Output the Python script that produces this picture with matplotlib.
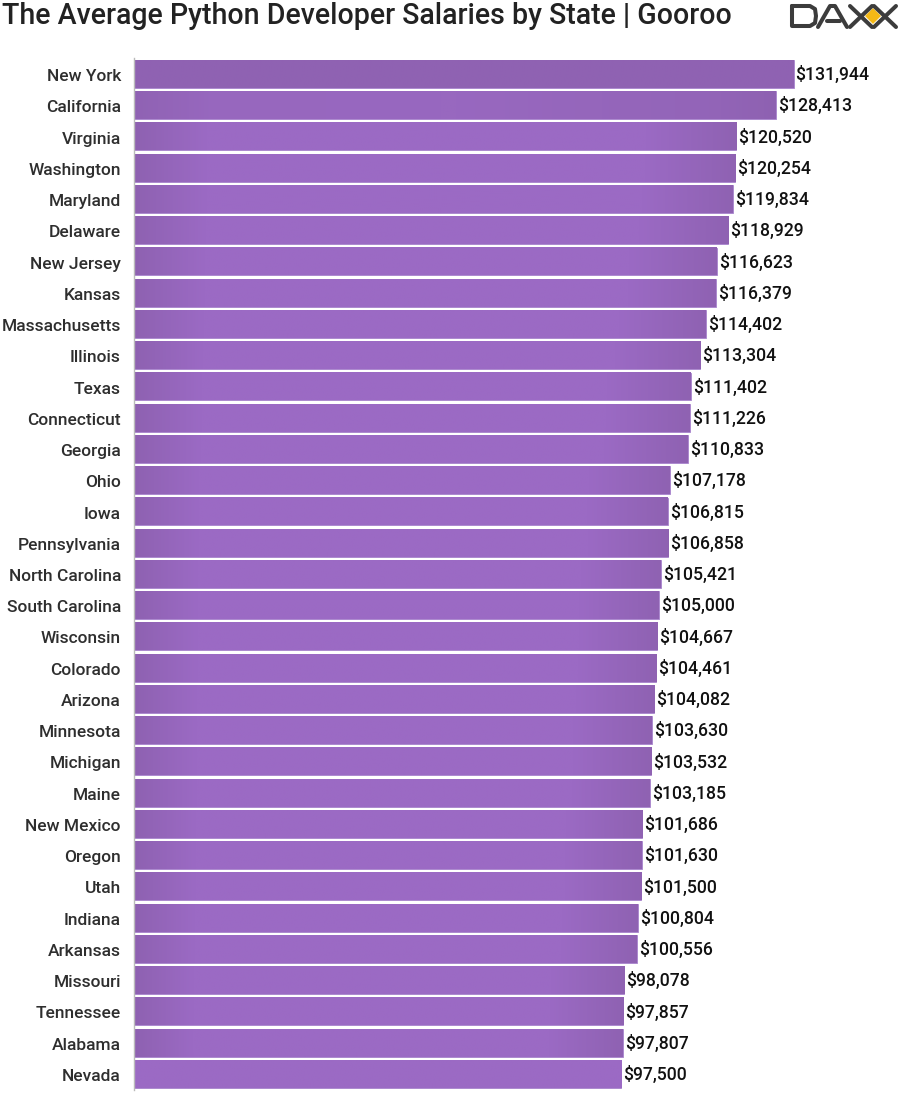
import numpy as np
import matplotlib
matplotlib.use("Agg")
import matplotlib.pyplot as plt
from matplotlib.colors import LinearSegmentedColormap
from matplotlib.lines import Line2D
from matplotlib.patches import Polygon
from matplotlib.transforms import ScaledTranslation

plt.rcParams['font.family'] = ['Roboto', 'DejaVu Sans']

states = ['New York', 'California', 'Virginia', 'Washington', 'Maryland', 'Delaware',
          'New Jersey', 'Kansas', 'Massachusetts', 'Illinois', 'Texas', 'Connecticut',
          'Georgia', 'Ohio', 'Iowa', 'Pennsylvania', 'North Carolina', 'South Carolina',
          'Wisconsin', 'Colorado', 'Arizona', 'Minnesota', 'Michigan', 'Maine',
          'New Mexico', 'Oregon', 'Utah', 'Indiana', 'Arkansas', 'Missouri',
          'Tennessee', 'Alabama', 'Nevada']
salaries = [131944, 128413, 120520, 120254, 119834, 118929, 116623, 116379, 114402,
            113304, 111402, 111226, 110833, 107178, 106815, 106858, 105421, 105000,
            104667, 104461, 104082, 103630, 103532, 103185, 101686, 101630, 101500,
            100804, 100556, 98078, 97857, 97807, 97500]

W, H = 900, 1120
fig = plt.figure(figsize=(W / 100, H / 100), dpi=100, facecolor='white')
# axes spans the bar area in pixels
ax = fig.add_axes([134 / W, 1 - 1089.6 / H, (W - 134) / W, (1089.6 - 58.4) / H])

y = np.arange(len(states))
bars = ax.barh(y, salaries, height=0.89, color='#9b6ac4', edgecolor='#a884cc',
               linewidth=0.6, zorder=2)

# darker shading towards both ends of each bar
cmap = LinearSegmentedColormap.from_list('b', ['#8c60ae', '#9b6ac4'])
xs = np.linspace(0, 1, 300)
for i, bar in enumerate(bars):
    if i == 0:
        # top bar is flat dark
        shade = np.full_like(xs, 0.2)
    elif i == len(bars) - 1:
        shade = np.full_like(xs, 1.0)
    elif i == 1:
        shade = np.interp(xs, [0, 0.12, 0.5, 0.9, 1.0], [0.25, 0.75, 0.8, 0.45, 0.15])
    else:
        shade = np.interp(xs, [0, 0.12, 0.85, 1.0], [0.15, 1.0, 1.0, 0.2])
    ax.imshow(shade[None, :], extent=(0, bar.get_width(), bar.get_y() + bar.get_height(), bar.get_y()),
              cmap=cmap, aspect='auto', zorder=3, vmin=0, vmax=1)

ax.set_xlim(0, 131944 * (W - 134) / (793.5 - 134))
ax.set_ylim(len(states) - 0.5, -0.5)
ax.set_yticks(y)
ax.set_yticklabels(states, fontsize=12.5, fontweight='medium', color='#2e2e2e')
ax.set_xticks([])
ax.tick_params(axis='y', length=0, pad=9.4)
nudge = ScaledTranslation(0, -1 / 100, fig.dpi_scale_trans)
for lab in ax.get_yticklabels():
    lab.set_transform(lab.get_transform() + nudge)
for s in ['top', 'right', 'bottom']:
    ax.spines[s].set_visible(False)
ax.spines['left'].set_color('#bbbbbb')
ax.spines['left'].set_linewidth(1)
ax.spines['left'].set_zorder(5)

for yi, val in zip(y, salaries):
    ax.annotate(f'${val:,}', (val, yi), xytext=(1.5, -0.7), textcoords='offset points',
                va='center', ha='left', fontsize=12.7, fontweight='medium', color='#111111',
                clip_on=False)

fig.text(2 / W, 1 - 15.5 / H, 'The Average Python Developer Salaries by State | Gooroo',
         fontsize=20.55, fontweight='medium', color='#222222', va='center', ha='left')


def px(xs, ys):
    return [x / W for x in xs], [1 - v / H for v in ys]


# DAXX logo drawn as strokes, in pixel positions
logo = '#3c3c3c'
strokes = [
    ([792, 810, 815, 816, 815, 810, 792, 792], [6, 6, 9, 16, 23, 26, 26, 6]),
    ([818, 830, 835, 847], [27, 6, 6, 27]),
    ([827, 840], [21, 21]),
    ([850, 872], [6, 27]),
    ([850, 872], [27, 6]),
    ([874, 896], [6, 27]),
    ([874, 896], [27, 6]),
]
for sx, sy in strokes:
    fx, fy = px(sx, sy)
    fig.add_artist(Line2D(fx, fy, color=logo, lw=2.9, transform=fig.transFigure,
                          solid_joinstyle='round', solid_capstyle='round'))
dx, dy = px([873, 881, 873, 865], [8, 16, 24, 16])
fig.add_artist(Polygon(list(zip(dx, dy)), closed=True, facecolor='#f5b916', edgecolor='none',
                       transform=fig.transFigure))

fig.savefig('out.png', dpi=100)
